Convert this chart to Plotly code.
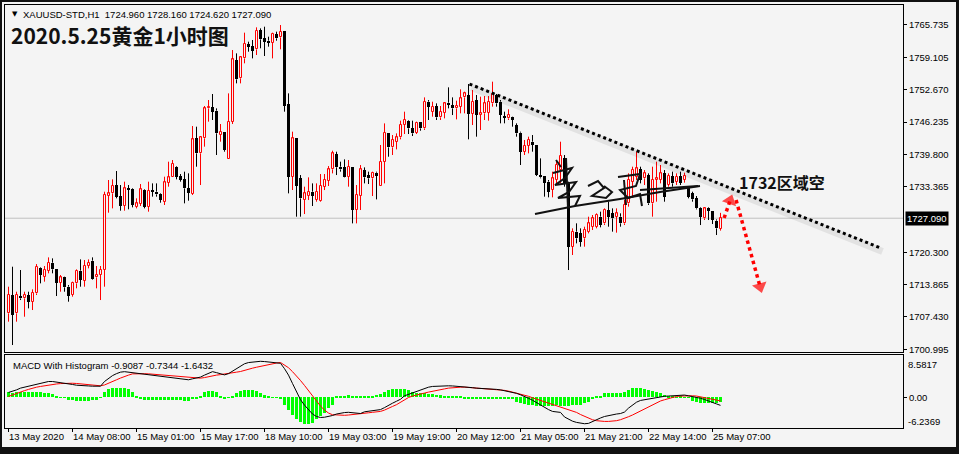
import plotly.graph_objects as go

# ---------------- data ----------------
bar_index = list(range(179))

opens = [1708.14, 1711.79, 1708.14, 1711.59, 1711.13, 1711.79, 1710.46, 1712.12, 1717.10, 1715.44,
         1716.64, 1718.23, 1716.90, 1714.25, 1715.31, 1713.45, 1711.79, 1714.11, 1716.64, 1714.65,
         1717.57, 1718.63, 1715.31, 1715.77, 1716.77, 1731.58, 1732.04, 1733.70, 1731.51, 1729.52,
         1733.04, 1732.84, 1729.39, 1729.92, 1732.71, 1729.39, 1732.71, 1732.37, 1731.91, 1730.38,
         1734.17, 1735.23, 1737.35, 1735.50, 1734.83, 1733.04, 1731.91, 1743.00, 1740.01, 1743.00,
         1748.97, 1749.17, 1748.51, 1743.66, 1744.33, 1738.82, 1746.32, 1758.60, 1754.95, 1758.93,
         1761.79, 1761.39, 1760.73, 1764.58, 1762.92, 1762.45, 1762.06, 1763.78, 1763.12, 1764.45,
         1749.84, 1735.36, 1743.00, 1735.03, 1730.71, 1731.51, 1732.37, 1730.71, 1730.58, 1733.37,
         1734.56, 1736.82, 1739.88, 1737.35, 1737.22, 1735.36, 1737.35, 1728.72, 1731.51, 1736.69,
         1735.69, 1735.03, 1736.16, 1733.50, 1738.35, 1744.12, 1741.20, 1742.33, 1743.20, 1745.65,
         1746.52, 1744.99, 1744.12, 1746.32, 1744.99, 1750.30, 1748.31, 1749.44, 1747.18, 1748.11,
         1750.10, 1749.64, 1748.97, 1749.30, 1751.16, 1751.63, 1747.84, 1750.63, 1747.65, 1747.98,
         1748.11, 1749.97, 1751.63, 1750.30, 1747.45, 1746.98, 1747.18, 1745.65, 1744.13, 1740.34,
         1741.47, 1742.33, 1741.67, 1735.69, 1735.49, 1734.37, 1732.71, 1734.70, 1736.69, 1739.01,
         1734.03, 1721.42, 1724.41, 1724.07, 1723.08, 1724.41, 1725.40, 1725.40, 1727.39, 1726.07,
         1728.72, 1728.06, 1727.39, 1727.39, 1726.07, 1730.05, 1734.37, 1735.36, 1736.82, 1735.03,
         1735.69, 1730.05, 1734.70, 1734.70, 1736.03, 1733.70, 1735.49, 1734.37, 1735.49, 1734.70,
         1733.04, 1732.04, 1731.05, 1729.05, 1727.06, 1729.05, 1728.59, 1726.60, 1724.96]

highs = [1713.45, 1717.43, 1712.45, 1716.77, 1712.45, 1712.45, 1712.92, 1717.96, 1717.30, 1717.57,
         1719.29, 1719.09, 1716.90, 1715.77, 1715.44, 1713.78, 1714.45, 1716.90, 1718.89, 1718.76,
         1718.89, 1719.29, 1717.57, 1717.57, 1732.37, 1734.70, 1734.83, 1736.49, 1733.70, 1734.37,
         1733.70, 1733.04, 1731.05, 1733.90, 1732.84, 1734.37, 1734.03, 1734.03, 1732.04, 1735.36,
         1738.35, 1738.68, 1737.49, 1735.89, 1736.36, 1736.03, 1745.45, 1745.32, 1743.33, 1749.44,
         1750.63, 1751.83, 1748.97, 1745.85, 1744.33, 1751.96, 1760.59, 1759.93, 1759.27, 1764.05,
         1762.25, 1762.59, 1765.11, 1764.91, 1765.24, 1763.25, 1764.05, 1764.25, 1765.57, 1764.45,
         1751.96, 1744.33, 1743.00, 1735.69, 1733.37, 1735.23, 1734.03, 1734.03, 1735.89, 1735.89,
         1737.48, 1740.54, 1740.34, 1738.35, 1738.81, 1738.68, 1737.35, 1733.70, 1737.68, 1737.22,
         1736.36, 1736.36, 1736.36, 1741.67, 1745.98, 1744.12, 1743.66, 1743.99, 1746.52, 1748.31,
         1746.65, 1746.52, 1746.32, 1746.32, 1751.16, 1750.63, 1750.30, 1749.97, 1749.44, 1750.10,
         1753.16, 1751.16, 1750.50, 1752.76, 1752.29, 1753.82, 1752.62, 1751.63, 1751.30, 1751.43,
         1751.43, 1754.29, 1751.83, 1750.63, 1748.31, 1748.78, 1747.31, 1745.99, 1744.33, 1742.67,
         1743.33, 1743.66, 1741.67, 1739.01, 1735.49, 1734.70, 1736.36, 1738.68, 1742.33, 1739.68,
         1734.37, 1725.07, 1726.07, 1725.07, 1725.40, 1727.39, 1727.73, 1728.06, 1728.39, 1729.05,
         1730.38, 1729.05, 1729.05, 1728.06, 1730.71, 1736.03, 1737.35, 1740.34, 1737.35, 1736.69,
         1736.03, 1737.35, 1738.35, 1737.69, 1736.69, 1736.03, 1736.36, 1736.03, 1736.36, 1736.16,
         1733.24, 1732.37, 1731.51, 1729.25, 1729.25, 1729.25, 1728.59, 1726.86, 1728.16]

lows = [1706.48, 1701.83, 1706.48, 1710.79, 1707.47, 1709.13, 1708.80, 1711.79, 1714.11, 1714.45,
        1716.11, 1716.11, 1711.59, 1712.45, 1712.45, 1710.46, 1711.46, 1713.12, 1713.45, 1713.45,
        1717.10, 1714.78, 1713.12, 1710.79, 1713.45, 1728.19, 1729.05, 1731.05, 1728.59, 1728.59,
        1728.86, 1729.25, 1729.05, 1729.52, 1729.05, 1728.39, 1731.38, 1731.38, 1730.18, 1729.72,
        1733.37, 1735.23, 1734.83, 1734.37, 1730.05, 1730.58, 1731.71, 1737.35, 1733.70, 1741.34,
        1746.32, 1746.65, 1739.68, 1742.33, 1740.34, 1738.82, 1745.85, 1753.95, 1753.95, 1757.94,
        1760.26, 1758.93, 1759.60, 1760.93, 1759.40, 1761.26, 1758.93, 1762.45, 1760.73, 1748.31,
        1732.04, 1732.71, 1727.39, 1727.39, 1727.92, 1730.71, 1729.52, 1730.38, 1730.38, 1732.70,
        1733.50, 1736.02, 1735.69, 1736.36, 1735.23, 1733.37, 1726.06, 1726.06, 1728.72, 1734.03,
        1733.90, 1731.51, 1730.84, 1733.50, 1734.03, 1739.34, 1739.68, 1740.80, 1742.80, 1743.86,
        1743.86, 1743.46, 1743.86, 1744.52, 1744.66, 1746.65, 1747.31, 1746.65, 1746.65, 1746.98,
        1748.97, 1747.64, 1746.78, 1747.98, 1747.98, 1742.80, 1745.65, 1743.33, 1744.66, 1746.65,
        1746.52, 1749.31, 1749.31, 1745.99, 1745.99, 1746.65, 1745.32, 1743.33, 1737.69, 1739.68,
        1740.01, 1740.34, 1735.49, 1735.03, 1731.38, 1731.25, 1731.25, 1734.03, 1734.03, 1733.37,
        1716.77, 1719.76, 1722.08, 1721.42, 1721.42, 1724.07, 1724.74, 1725.07, 1725.27, 1725.73,
        1725.40, 1724.41, 1724.21, 1725.40, 1725.73, 1729.39, 1731.38, 1734.70, 1734.03, 1733.70,
        1729.72, 1727.39, 1730.38, 1734.03, 1730.38, 1733.37, 1733.37, 1733.70, 1733.70, 1734.17,
        1731.05, 1730.38, 1728.85, 1725.73, 1726.73, 1726.73, 1725.93, 1723.74, 1724.62]

closes = [1711.79, 1707.81, 1711.79, 1711.13, 1711.79, 1710.46, 1712.26, 1717.43, 1715.77, 1716.77,
          1718.23, 1716.90, 1714.25, 1715.31, 1713.32, 1711.59, 1714.25, 1716.64, 1714.78, 1717.57,
          1718.23, 1714.91, 1715.77, 1716.77, 1731.71, 1732.04, 1733.50, 1731.38, 1729.52, 1733.04,
          1732.71, 1729.72, 1730.05, 1732.84, 1729.39, 1732.51, 1732.37, 1731.84, 1730.71, 1734.23,
          1735.23, 1737.89, 1735.36, 1734.70, 1733.04, 1732.17, 1742.80, 1740.01, 1743.20, 1748.97,
          1749.17, 1748.31, 1744.00, 1744.26, 1740.67, 1746.32, 1758.73, 1754.75, 1759.13, 1761.79,
          1761.26, 1760.46, 1764.45, 1762.72, 1762.25, 1762.06, 1763.78, 1762.92, 1764.25, 1749.44,
          1735.36, 1743.00, 1733.60, 1731.04, 1732.04, 1732.31, 1731.51, 1732.37, 1733.50, 1734.70,
          1736.82, 1740.01, 1737.22, 1736.82, 1735.36, 1737.35, 1728.72, 1731.71, 1736.82, 1735.23,
          1735.03, 1736.16, 1735.49, 1738.35, 1744.12, 1741.20, 1742.66, 1743.20, 1745.65, 1746.65,
          1744.99, 1743.99, 1746.12, 1744.99, 1750.30, 1749.30, 1749.30, 1747.18, 1748.31, 1749.97,
          1749.64, 1748.97, 1749.44, 1750.96, 1751.96, 1747.84, 1750.30, 1747.65, 1747.98, 1749.97,
          1750.30, 1751.83, 1749.97, 1747.65, 1747.18, 1747.65, 1746.65, 1743.99, 1740.34, 1741.47,
          1742.67, 1741.67, 1735.69, 1735.23, 1734.17, 1732.37, 1735.03, 1737.69, 1739.48, 1734.03,
          1721.42, 1724.41, 1723.08, 1722.41, 1724.74, 1726.07, 1727.06, 1727.73, 1725.73, 1728.72,
          1727.39, 1727.06, 1728.06, 1726.07, 1729.72, 1734.70, 1736.69, 1737.02, 1734.70, 1736.03,
          1730.05, 1734.70, 1735.03, 1736.03, 1731.38, 1735.49, 1734.03, 1735.36, 1734.17, 1735.49,
          1731.38, 1730.85, 1729.05, 1727.39, 1729.05, 1728.59, 1726.73, 1725.07, 1727.09]

macd_line = [0.98, 1.2, 1.5, 1.86, 2.05, 2.3, 2.5, 2.75, 2.95, 3.1,
             3.2, 3.2, 3.1, 3.0, 2.9, 2.75, 2.6, 2.45, 2.35, 2.3,
             2.3, 2.25, 2.2, 2.25, 3.2, 3.9, 4.4, 4.8, 5.1, 5.2,
             5.1, 4.95, 4.85, 4.75, 4.65, 4.55, 4.5, 4.4, 4.3, 4.25,
             4.2, 4.1, 4.0, 3.85, 3.7, 3.55, 3.75, 3.95, 4.1, 4.5,
             4.9, 5.2, 5.0, 4.75, 4.55, 4.8, 5.3, 5.8, 6.3, 6.8,
             7.05, 7.15, 7.25, 7.3, 7.25, 7.15, 7.05, 7.0, 6.9, 5.8,
             4.5, 2.8, 1.0, -0.5, -1.6, -2.6, -3.4, -3.9, -4.1, -4.05,
             -3.9, -3.7, -3.4, -3.2, -3.1, -3.05, -3.15, -3.3, -3.3, -2.95,
             -2.8, -2.7, -2.6, -2.5, -2.1, -1.6, -1.2, -0.8, -0.4, 0.3,
             0.6, 0.9, 1.25, 1.55, 1.85, 2.05, 2.2, 2.25, 2.3, 2.35,
             2.33, 2.3, 2.25, 2.2, 2.2, 2.1, 1.95, 1.85, 1.82, 1.75,
             1.7, 1.66, 1.6, 1.5, 1.35, 1.2, 1.0, 0.8, 0.5, 0.2,
             -0.2, -0.6, -1.1, -1.5, -2.0, -2.5, -2.87, -2.95, -3.07, -4.0,
             -4.5, -4.85, -5.1, -5.3, -5.37, -5.3, -4.9, -4.56, -4.2, -3.9,
             -3.7, -3.55, -3.4, -3.3, -3.0, -2.2, -1.55, -1.0, -0.64, -0.5,
             -0.37, -0.2, 0.0, 0.17, 0.2, 0.25, 0.3, 0.4, 0.5, 0.45,
             0.3, 0.17, 0.0, -0.2, -0.45, -0.7, -1.0, -1.35, -1.6432]

signal_line = [0.17, 0.5, 0.8, 1.1, 1.35, 1.6, 1.86, 2.05, 2.2, 2.35,
               2.5, 2.6, 2.7, 2.78, 2.85, 2.87, 2.85, 2.8, 2.7, 2.6,
               2.5, 2.45, 2.38, 2.33, 2.5, 2.8, 3.15, 3.55, 3.9, 4.25,
               4.5, 4.75, 4.8, 4.8, 4.78, 4.76, 4.7, 4.6, 4.5, 4.4,
               4.35, 4.3, 4.25, 4.2, 4.1, 4.05, 3.98, 3.92, 3.88, 4.0,
               4.2, 4.36, 4.5, 4.6, 4.76, 4.85, 5.0, 5.1, 5.23, 5.5,
               5.7, 5.91, 6.1, 6.3, 6.5, 6.7, 6.85, 6.95, 7.06, 6.6,
               6.0, 5.2, 4.4, 3.4, 2.4, 1.3, 0.2, -0.8, -1.8, -2.6,
               -3.2, -3.54, -3.6, -3.68, -3.66, -3.6, -3.54, -3.45, -3.35, -3.21,
               -3.15, -3.05, -2.95, -2.87, -2.6, -2.3, -1.86, -1.5, -1.0, -0.4,
               -0.05, 0.25, 0.5, 0.71, 0.85, 1.05, 1.18, 1.35, 1.5, 1.7,
               1.86, 1.95, 2.0, 2.05, 2.06, 2.0, 1.95, 1.86, 1.84, 1.75,
               1.7, 1.65, 1.58, 1.52, 1.4, 1.25, 1.05, 0.88, 0.71, 0.45,
               0.2, -0.1, -0.37, -0.65, -0.95, -1.25, -1.55, -1.8, -1.99, -2.25,
               -2.5, -2.75, -3.07, -3.5, -3.9, -4.25, -4.56, -4.75, -4.89, -4.9,
               -4.9, -4.89, -4.75, -4.55, -4.3, -3.95, -3.6, -3.21, -2.8, -2.35,
               -1.9, -1.5, -1.1, -0.75, -0.5, -0.25, 0.0, 0.17, 0.25, 0.3,
               0.3, 0.3, 0.25, 0.1, -0.1, -0.25, -0.4, -0.55, -0.7344]

histogram = [1.0, 0.9, 1.0, 1.0, 1.0, 1.0, 1.0, 1.0, 1.0, 0.9,
             0.9, 0.6, 0.3, 0.05, -0.1, -0.5, -0.6, -0.7, -0.7, -0.7,
             -0.7, -0.65, -0.6, -0.1, 1.0, 1.6, 1.8, 1.9, 1.9, 1.8,
             1.6, 1.0, 0.3, -0.4, -0.6, -0.6, -0.6, -0.6, -0.6, -0.55,
             -0.5, -0.5, -0.5, -0.6, -0.7, -0.8, -0.4, -0.2, 0.3, 1.0,
             1.2, 1.2, 1.0, 0.2, -0.3, -0.1, 0.2, 0.9, 1.3, 1.4,
             1.4, 1.4, 1.2, 0.9, 0.4, 0.1, -0.1, -0.1, -0.2, -1.5,
             -2.5, -3.5, -4.5, -5.1, -5.4, -5.4, -5.2, -4.5, -3.9, -3.2,
             -2.2, -1.5, 0.1, 0.3, 0.3, 0.4, 0.3, 0.1, 0.2, 0.3,
             0.35, 0.35, 0.5, 0.7, 1.1, 1.4, 1.6, 1.7, 1.7, 1.65,
             1.4, 1.1, 0.9, 0.85, 0.8, 0.7, 0.6, 0.5, 0.4, 0.35,
             0.3, 0.25, 0.2, 0.1, -0.3, -0.4, -0.4, -0.4, -0.45, -0.45,
             -0.4, -0.4, -0.4, -0.35, -0.3, -0.3, -0.3, -1.0, -1.2, -1.3,
             -1.5, -1.6, -1.8, -1.8, -1.8, -1.7, -1.7, -1.6, -1.7, -1.7,
             -1.7, -1.6, -1.6, -1.5, -1.2, -0.9, -0.2, 0.1, 0.1, 0.8,
             0.8, 0.8, 0.85, 0.9, 1.0, 1.5, 1.8, 1.9, 1.9, 1.7,
             1.4, 1.2, 1.0, 0.8, 0.5, 0.1, 0.1, 0.05, 0.1, 0.05,
             -0.1, -0.8, -1.0, -1.1, -1.1, -1.1, -1.2, -1.2, -0.9087]

time_tick_index = [0, 16, 32, 48, 64, 80, 96, 112, 128, 144, 160, 176]
time_tick_text = ["13 May 2020", "14 May 08:00", "15 May 01:00", "15 May 17:00",
                  "18 May 10:00", "19 May 03:00", "19 May 19:00", "20 May 12:00",
                  "21 May 05:00", "21 May 21:00", "22 May 14:00", "25 May 07:00"]

price_ticks = [1765.735, 1759.105, 1752.670, 1746.235, 1739.800, 1733.365,
               1720.300, 1713.865, 1707.430, 1700.995]
macd_max, macd_min = 8.5817, -6.2369

# analyst drawings (bar index, price)
trend_x = [115.25, 218.0]
trend_y = [1753.82, 1721.16]
arrow_up_x = [178.9, 180.4]
arrow_up_y = [1727.13, 1730.58]
arrow_dn_x = [181.9, 187.9]
arrow_dn_y = [1730.71, 1713.45]
note_x, note_y = 193.4, 1734.3

# ---------------- geometry ----------------
W, H = 959, 454
ML, MR, MT, MB = 5, 56, 5, 26
PW = W - ML - MR
PH = H - MT - MB
BG = "#f4f4f4"
FONT = "Liberation Sans"


def pxx(x):
    return (x - ML) / PW


def pxy(y):
    return (H - MB - y) / PH


fig = go.Figure()

# ---------------- candles ----------------
MINH = 0.2
up_x, up_base, up_h = [], [], []
dn_x, dn_base, dn_h = [], [], []
wick_up_x, wick_up_y, wick_dn_x, wick_dn_y = [], [], [], []
for i, o, h, l, c in zip(bar_index, opens, highs, lows, closes):
    top, bot = max(o, c), min(o, c)
    hh = max(top - bot, MINH)
    if c >= o:
        up_x.append(i); up_base.append(bot); up_h.append(hh)
        wx, wy = wick_up_x, wick_up_y
    else:
        dn_x.append(i); dn_base.append(bot); dn_h.append(hh)
        wx, wy = wick_dn_x, wick_dn_y
    if h > top:
        wx += [i, i, None]; wy += [top, h, None]
    if l < bot:
        wx += [i, i, None]; wy += [l, bot, None]

fig.add_trace(go.Scatter(x=wick_up_x, y=wick_up_y, mode="lines", xaxis="x2", yaxis="y",
                         line=dict(color="#ff0000", width=1), hoverinfo="skip", showlegend=False))
fig.add_trace(go.Scatter(x=wick_dn_x, y=wick_dn_y, mode="lines", xaxis="x2", yaxis="y",
                         line=dict(color="#000000", width=1), hoverinfo="skip", showlegend=False))
fig.add_trace(go.Bar(x=up_x, y=up_h, base=up_base, width=0.5, xaxis="x2", yaxis="y",
                     marker=dict(color=BG, line=dict(color="#ff0000", width=1)),
                     hoverinfo="skip", showlegend=False))
fig.add_trace(go.Bar(x=dn_x, y=dn_h, base=dn_base, width=0.75, xaxis="x2", yaxis="y",
                     marker=dict(color="#000000", line=dict(width=0)),
                     hoverinfo="skip", showlegend=False))

# trend line with soft shadow
fig.add_trace(go.Scatter(x=[v + 0.5 for v in trend_x], y=[v - 0.7 for v in trend_y], mode="lines",
                         xaxis="x2", yaxis="y", line=dict(color="rgba(0,0,0,0.07)", width=7),
                         hoverinfo="skip", showlegend=False))
fig.add_trace(go.Scatter(x=trend_x, y=trend_y, mode="lines", xaxis="x2", yaxis="y",
                         line=dict(color="#000000", width=3, dash="dot"),
                         hoverinfo="skip", showlegend=False))

# red dotted arrows
for ax_, ay_ in ((arrow_up_x, arrow_up_y), (arrow_dn_x, arrow_dn_y)):
    fig.add_trace(go.Scatter(x=ax_, y=ay_, mode="lines+markers", xaxis="x2", yaxis="y",
                             line=dict(color="#ff0000", width=3.5, dash="dot"),
                             marker=dict(symbol="triangle-up", size=[0, 13], color="#ff0000",
                                         angleref="previous", line=dict(width=0)),
                             hoverinfo="skip", showlegend=False))

# ---------------- MACD panel ----------------
fig.add_trace(go.Bar(x=bar_index, y=histogram, width=0.75, xaxis="x", yaxis="y2",
                     marker=dict(color="#00ff00", line=dict(width=0)),
                     hoverinfo="skip", showlegend=False))
fig.add_trace(go.Scatter(x=bar_index, y=signal_line, mode="lines", xaxis="x", yaxis="y2",
                         line=dict(color="#ff0000", width=1), hoverinfo="skip", showlegend=False))
fig.add_trace(go.Scatter(x=bar_index, y=macd_line, mode="lines", xaxis="x", yaxis="y2",
                         line=dict(color="#000000", width=1), hoverinfo="skip", showlegend=False))

xr = [-0.875, 223.625]
axis_common = dict(showgrid=False, zeroline=False, showline=True, mirror=True,
                   linecolor="#000000", linewidth=1, fixedrange=True)

fig.update_layout(
    width=W, height=H,
    margin=dict(l=ML, r=MR, t=MT, b=MB, pad=0),
    paper_bgcolor=BG, plot_bgcolor=BG,
    barmode="overlay", bargap=0,
    showlegend=False,
    font=dict(family=FONT, size=9.5, color="#000000"),
    xaxis=dict(domain=[0, 1], anchor="y2", range=xr, ticks="outside", ticklen=3,
               tickcolor="#000000", tickvals=time_tick_index, showticklabels=False,
               rangeslider=dict(visible=False), **axis_common),
    xaxis2=dict(domain=[0, 1], anchor="y", range=xr, matches="x", showticklabels=False,
                ticks="", rangeslider=dict(visible=False), **axis_common),
    yaxis=dict(domain=[pxy(352), 1], anchor="x2", side="right",
               range=[1700.44, 1769.56], tickvals=price_ticks,
               ticktext=["%.3f" % v for v in price_ticks],
               ticks="outside", ticklen=3, tickcolor="#000000",
               tickfont=dict(family=FONT, size=9.5, color="#000000"), **axis_common),
    yaxis2=dict(domain=[0, pxy(355)], anchor="x", side="right",
                range=[macd_min, macd_max], tickvals=[0], ticktext=["0.00"],
                ticks="outside", ticklen=3, tickcolor="#000000",
                tickfont=dict(family=FONT, size=9.5, color="#000000"), **axis_common),
)

# bid line
fig.add_shape(type="line", xref="paper", yref="y", x0=0, x1=1, y0=closes[-1], y1=closes[-1],
              line=dict(color="#c0c0c0", width=1), layer="below")

ann = []
# current price box
ann.append(dict(x=1, y=closes[-1], xref="paper", yref="y", xanchor="left", yanchor="middle",
                xshift=2, text="%.3f" % closes[-1], showarrow=False, bgcolor="#000000",
                borderpad=1, font=dict(family=FONT, size=9.5, color="#ffffff")))
# MACD extreme labels
ann.append(dict(x=1, y=macd_max, xref="paper", yref="y2", xanchor="left", yanchor="top",
                xshift=4, yshift=-3, text="%.4f" % macd_max, showarrow=False, borderpad=0,
                font=dict(family=FONT, size=9.5, color="#000000")))
ann.append(dict(x=1, y=macd_min, xref="paper", yref="y2", xanchor="left", yanchor="bottom",
                xshift=4, yshift=0, text="%.4f" % macd_min, showarrow=False, borderpad=0,
                font=dict(family=FONT, size=9.5, color="#000000")))
# time labels (left-aligned at their ticks)
for ti, tt in zip(time_tick_index, time_tick_text):
    ann.append(dict(x=ti, y=pxy(437), xref="x", yref="paper", xanchor="left", yanchor="middle",
                    xshift=-1, text=tt, showarrow=False, borderpad=0,
                    font=dict(family=FONT, size=9.5, color="#000000")))
# header texts
ann.append(dict(x=pxx(14.5), y=pxy(14.5), xref="paper", yref="paper", xanchor="center",
                yanchor="middle", text="▼", showarrow=False, borderpad=0,
                font=dict(family="DejaVu Sans", size=7, color="#000000")))
ann.append(dict(x=pxx(22), y=pxy(14), xref="paper", yref="paper", xanchor="left",
                yanchor="middle",
                text="XAUUSD-STD,H1\u00a0\u00a0%.3f %.3f %.3f %.3f" % (opens[-1], highs[-1], lows[-1], closes[-1]),
                showarrow=False, borderpad=0, font=dict(family=FONT, size=9.5, color="#000000")))
ann.append(dict(x=pxx(10), y=pxy(35), xref="paper", yref="paper", xanchor="left",
                yanchor="middle", text="<b>2020.5.25黄金1小时图</b>", showarrow=False,
                borderpad=0, font=dict(family="Noto Sans CJK SC", size=21, color="#111111")))
ann.append(dict(x=pxx(12), y=pxy(365), xref="paper", yref="paper", xanchor="left",
                yanchor="middle",
                text="MACD With Histogram %.4f %.4f %.4f" % (histogram[-1], signal_line[-1], macd_line[-1]),
                showarrow=False, borderpad=0, font=dict(family=FONT, size=9.5, color="#000000")))
ann.append(dict(x=note_x, y=note_y, xref="x2", yref="y", xanchor="center", yanchor="middle",
                text="<b>1732区域空</b>", showarrow=False, borderpad=0,
                font=dict(family="Noto Sans CJK SC", size=16, color="#111111")))
fig.update_layout(annotations=ann)

# handwritten signature watermark (decoration, pixel coordinates of the picture)
sig_strokes = [
    [(535, 214), (575, 206), (620, 199), (660, 192), (700, 186)],
    [(556, 160), (561, 167)],
    [(553, 173), (572, 168), (565, 178), (555, 185), (576, 182), (569, 192), (558, 198), (580, 196), (575, 206)],
    [(566, 158), (568, 208)],
    [(588, 186), (598, 181), (604, 188), (592, 196), (606, 198), (612, 192), (604, 186)],
    [(618, 177), (640, 174), (636, 186), (620, 190), (628, 198), (640, 194), (642, 206)],
    [(624, 180), (626, 205)],
    [(640, 190), (698, 186)],
]
for stroke in sig_strokes:
    path = "M " + " L ".join("%.5f,%.5f" % (pxx(a), pxy(b)) for a, b in stroke)
    fig.add_shape(type="path", xref="paper", yref="paper", path=path,
                  line=dict(color="#111111", width=2), layer="above")

# outer dark frame
frame = "#111111"
for x0, y0, x1, y1 in ((0, 0, W, 2), (0, 0, 2, H), (956, 0, W, H), (0, 447, W, H)):
    fig.add_shape(type="rect", xref="paper", yref="paper", x0=pxx(x0), x1=pxx(x1),
                  y0=pxy(y1), y1=pxy(y0), fillcolor=frame, line=dict(width=0), layer="above")

fig.write_html("out.html", config={"displayModeBar": False})
